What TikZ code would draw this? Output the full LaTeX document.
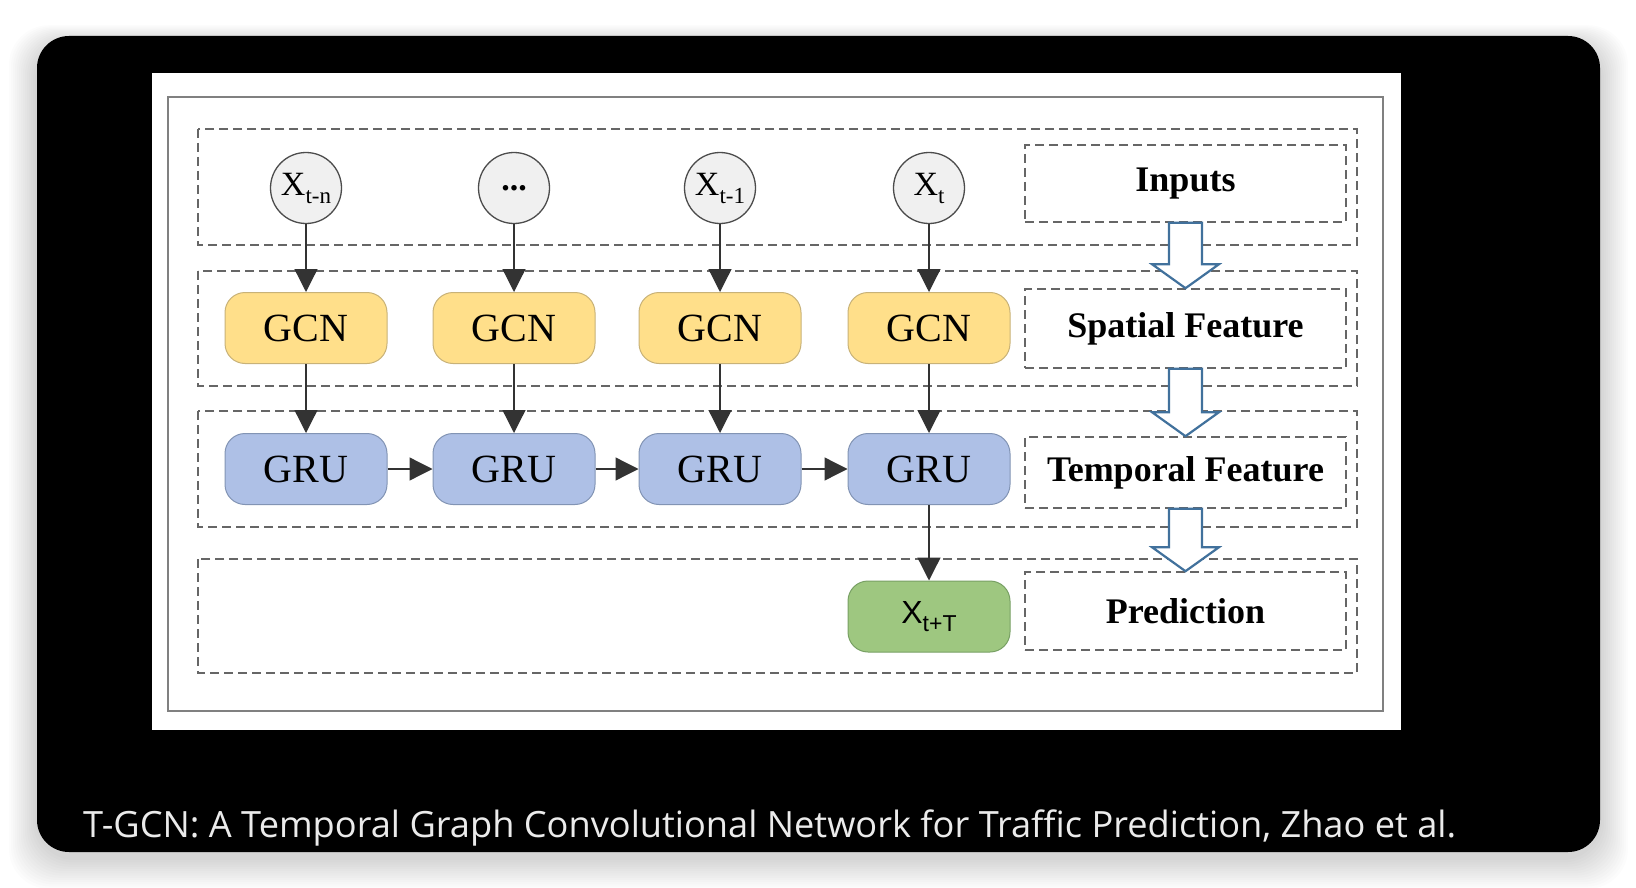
\documentclass[tikz,border=0pt]{standalone}
\usepackage{fontspec}
\setmainfont{Liberation Serif}
\newfontfamily\capfont{Open Sans}
\newfontfamily\arialfont{Liberation Sans}
\usepackage{tikz}
\usetikzlibrary{arrows.meta, calc}
\definecolor{gcnfill}{RGB}{255,223,138}
\definecolor{gcnline}{RGB}{200,178,120}
\definecolor{grufill}{RGB}{174,192,230}
\definecolor{gruline}{RGB}{130,148,180}
\definecolor{predfill}{RGB}{158,199,128}
\definecolor{predline}{RGB}{120,160,100}
\definecolor{hollowblue}{RGB}{65,113,156}
\newcommand{\lowsub}[1]{\raisebox{-8pt}{\fontsize{23}{23}\selectfont #1}}

\begin{document}
\begin{tikzpicture}[x=1pt,y=-1pt]
\tikzstyle{vertex}=[circle, draw=black!70, fill=black!6, line width=1.3pt, minimum size=71pt, inner sep=0pt, font=\fontsize{34}{34}\selectfont]
\tikzstyle{block}=[rounded corners=20pt, line width=1pt, minimum width=162pt, minimum height=71pt, font=\fontsize{40}{40}\selectfont]
\tikzstyle{stage}=[draw=black!60, dash pattern=on 9pt off 5pt, line width=1.6pt]
\tikzstyle{tag}=[stage, minimum width=321pt, font=\bfseries\fontsize{36}{36}\selectfont]
\tikzstyle{arr}=[-{Triangle[width=23pt,length=23pt]}, line width=1.3pt, black!80]
\tikzstyle{hollow}=[draw=hollowblue, fill=white, line width=2.2pt, line join=miter]

\useasboundingbox (0,0) rectangle (1636,888);

% screen
\foreach \k in {1,...,14}
   \fill[black, opacity=0.012, rounded corners=40pt] (37-\k*2,36-\k*1.2+6) rectangle (1600+\k*2,852+\k*2.2+6);
\fill[black, rounded corners=32pt] (37,36) rectangle (1600,852);
\fill[white] (152,73) rectangle (1401,730);
\draw[black!50, line width=2pt] (168,97) rectangle (1383,711);

\foreach \a/\b in {129/245,271/386,411/527,559/673}
   \draw[stage] (198,\a) rectangle (1357,\b);

\node[tag, minimum height=77pt] (inp) at (1185.5,183.5) {Inputs};
\node[tag, minimum height=79pt] (spa) at (1185.5,328.5) {Spatial Feature};
\node[tag, minimum height=71pt] (tem) at (1185.5,472.5) {Temporal Feature};
\node[tag, minimum height=78pt] (pre) at (1185.5,611) {Prediction};

\foreach \i/\x/\lab in {1/306/X\lowsub{t-n},2/514/\textbf{...},3/720/X\lowsub{t-1},4/929/X\lowsub{t}}
{
   \node[vertex] (x\i) at (\x,188) {\lab};
   \node[block, fill=gcnfill, draw=gcnline] (g\i) at (\x,328) {GCN};
   \node[block, fill=grufill, draw=gruline] (r\i) at (\x,469) {GRU};
}
\node[block, fill=predfill, draw=predline, font=\arialfont\fontsize{32}{32}\selectfont] (out) at (929,616.5) {X\lowsub{t+T}};

\foreach \i in {1,...,4}
{
   \draw[arr] (x\i) -- (g\i);
   \draw[arr] (g\i) -- (r\i);
}
\foreach \i/\j in {1/2,2/3,3/4}
   \draw[arr] (r\i) -- (r\j);
\draw[arr] (r4) -- (out);

\foreach \a/\b in {inp/spa,spa/tem,tem/pre}
   \draw[hollow] ($(\a.south)+(-16.5,0)$) -- ($(\a.south)+(16.5,0)$) -- ($(\b.north)+(16.5,-24)$) -- ($(\b.north)+(33.5,-24)$) -- (\b.north) -- ($(\b.north)+(-33.5,-24)$) -- ($(\b.north)+(-16.5,-24)$) -- cycle;

\node[anchor=base west, inner sep=0pt, text=black!8, font=\capfont\fontsize{36.2}{36.2}\selectfont] (cap) at (83,837) {T-GCN: A Temporal Graph Convolutional Network for Traffic Prediction, Zhao et al.};

\end{tikzpicture}
\end{document}
